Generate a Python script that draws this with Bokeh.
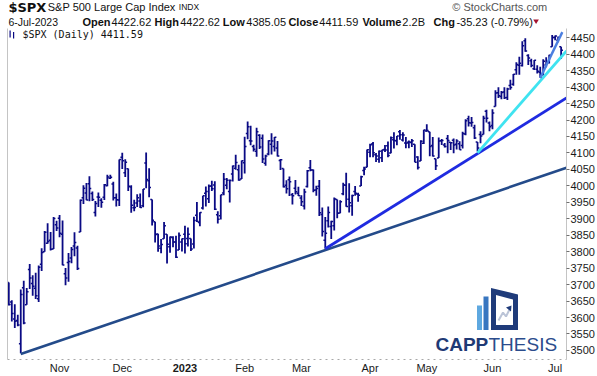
from bokeh.plotting import figure
from bokeh.layouts import column
from bokeh.models import (Range1d, LinearAxis, FixedTicker, Label, BoxAnnotation,
                          PolyAnnotation, ColumnDataSource)
from bokeh.core.properties import value
from bokeh.embed import file_html
from bokeh.resources import INLINE

# ---------------- data ----------------
dates = [
    "2022-10-07", "2022-10-10", "2022-10-11", "2022-10-12", "2022-10-13", "2022-10-14", "2022-10-17",
    "2022-10-18", "2022-10-19", "2022-10-20", "2022-10-21", "2022-10-24", "2022-10-25", "2022-10-26",
    "2022-10-27", "2022-10-28", "2022-10-31",
    "2022-11-01", "2022-11-02", "2022-11-03", "2022-11-04", "2022-11-07", "2022-11-08", "2022-11-09",
    "2022-11-10", "2022-11-11", "2022-11-14", "2022-11-15", "2022-11-16", "2022-11-17", "2022-11-18",
    "2022-11-21", "2022-11-22", "2022-11-23", "2022-11-25", "2022-11-28", "2022-11-29", "2022-11-30",
    "2022-12-01", "2022-12-02", "2022-12-05", "2022-12-06", "2022-12-07", "2022-12-08", "2022-12-09",
    "2022-12-12", "2022-12-13", "2022-12-14", "2022-12-15", "2022-12-16", "2022-12-19", "2022-12-20",
    "2022-12-21", "2022-12-22", "2022-12-23", "2022-12-27", "2022-12-28", "2022-12-29", "2022-12-30",
    "2023-01-03", "2023-01-04", "2023-01-05", "2023-01-06", "2023-01-09", "2023-01-10", "2023-01-11",
    "2023-01-12", "2023-01-13", "2023-01-17", "2023-01-18", "2023-01-19", "2023-01-20", "2023-01-23",
    "2023-01-24", "2023-01-25", "2023-01-26", "2023-01-27", "2023-01-30", "2023-01-31",
    "2023-02-01", "2023-02-02", "2023-02-03", "2023-02-06", "2023-02-07", "2023-02-08", "2023-02-09",
    "2023-02-10", "2023-02-13", "2023-02-14", "2023-02-15", "2023-02-16", "2023-02-17", "2023-02-21",
    "2023-02-22", "2023-02-23", "2023-02-24", "2023-02-27", "2023-02-28",
    "2023-03-01", "2023-03-02", "2023-03-03", "2023-03-06", "2023-03-07", "2023-03-08", "2023-03-09",
    "2023-03-10", "2023-03-13", "2023-03-14", "2023-03-15", "2023-03-16", "2023-03-17", "2023-03-20",
    "2023-03-21", "2023-03-22", "2023-03-23", "2023-03-24", "2023-03-27", "2023-03-28", "2023-03-29",
    "2023-03-30", "2023-03-31",
    "2023-04-03", "2023-04-04", "2023-04-05", "2023-04-06", "2023-04-10", "2023-04-11", "2023-04-12",
    "2023-04-13", "2023-04-14", "2023-04-17", "2023-04-18", "2023-04-19", "2023-04-20", "2023-04-21",
    "2023-04-24", "2023-04-25", "2023-04-26", "2023-04-27", "2023-04-28",
    "2023-05-01", "2023-05-02", "2023-05-03", "2023-05-04", "2023-05-05", "2023-05-08", "2023-05-09",
    "2023-05-10", "2023-05-11", "2023-05-12", "2023-05-15", "2023-05-16", "2023-05-17", "2023-05-18",
    "2023-05-19", "2023-05-22", "2023-05-23", "2023-05-24", "2023-05-25", "2023-05-26", "2023-05-30",
    "2023-05-31",
    "2023-06-01", "2023-06-02", "2023-06-05", "2023-06-06", "2023-06-07", "2023-06-08", "2023-06-09",
    "2023-06-12", "2023-06-13", "2023-06-14", "2023-06-15", "2023-06-16", "2023-06-20", "2023-06-21",
    "2023-06-22", "2023-06-23", "2023-06-26", "2023-06-27", "2023-06-28", "2023-06-29", "2023-06-30",
    "2023-07-03", "2023-07-05", "2023-07-06",
]

opens = [
    3706.74, 3647.51, 3595.86, 3590.83, 3520.37, 3690.41, 3638.65, 3746.26, 3703.11, 3689.05, 3657.10,
    3762.01, 3799.44, 3825.97, 3834.69, 3808.26, 3881.85,
    3901.79, 3852.90, 3733.25, 3766.98, 3780.71, 3817.02, 3810.94, 3859.89, 3963.72, 3977.97, 4006.41,
    3976.82, 3919.26, 3966.39, 3956.23, 3965.51, 4000.30, 4023.34, 4005.36, 3964.19, 3957.18,
    4087.14, 4040.17, 4052.02, 3996.63, 3933.28, 3947.79, 3954.17, 3939.29, 4069.38, 4015.54, 3958.37,
    3890.91, 3853.79, 3810.47, 3839.49, 3853.26, 3815.11, 3843.34, 3829.56, 3805.45, 3829.06,
    3853.29, 3840.36, 3839.74, 3823.37, 3910.82, 3888.57, 3932.35, 3977.57, 3960.60, 3999.28, 4002.25,
    3911.84, 3909.04, 3978.14, 4001.74, 3982.71, 4036.08, 4053.72, 4049.27, 4020.85,
    4070.07, 4158.68, 4136.69, 4119.57, 4105.35, 4153.47, 4144.25, 4068.92, 4096.62, 4126.70, 4119.50,
    4114.75, 4077.39, 4052.35, 4001.83, 4018.60, 3973.24, 3992.36, 3977.19,
    3963.34, 3938.68, 3998.02, 4055.15, 4048.26, 3987.55, 3998.66, 3912.77, 3835.12, 3894.01, 3876.74,
    3878.93, 3958.69, 3917.47, 3975.89, 4002.04, 3959.21, 3939.21, 3982.93, 3974.13, 3999.53, 4046.74,
    4056.18,
    4102.20, 4128.03, 4094.50, 4081.15, 4085.20, 4110.29, 4121.72, 4100.04, 4140.11, 4137.17, 4164.26,
    4139.33, 4130.48, 4132.14, 4132.07, 4126.43, 4087.78, 4075.29, 4129.63,
    4166.79, 4164.10, 4122.25, 4082.61, 4084.73, 4136.98, 4124.25, 4143.74, 4132.24, 4138.54, 4126.65,
    4127.95, 4122.85, 4157.68, 4204.15, 4190.78, 4176.80, 4132.96, 4155.71, 4156.16, 4226.71, 4190.74,
    4183.03, 4241.01, 4282.99, 4271.34, 4285.47, 4268.69, 4304.88, 4308.32, 4352.61, 4366.29, 4365.33,
    4440.95, 4396.11, 4380.01, 4355.40, 4354.17, 4344.84, 4337.36, 4367.48, 4374.94, 4422.44,
    4450.48, 4442.04, 4422.62,
]

highs = [
    3706.74, 3652.17, 3640.66, 3608.34, 3685.41, 3712.00, 3689.73, 3762.79, 3728.58, 3736.00, 3757.89,
    3810.74, 3862.85, 3886.15, 3859.95, 3905.42, 3893.73,
    3911.79, 3894.44, 3750.59, 3796.34, 3813.95, 3859.40, 3818.20, 3958.33, 4001.48, 4008.97, 4028.84,
    3983.09, 3954.33, 3979.89, 3962.00, 4005.88, 4033.78, 4034.02, 4012.27, 3976.77, 4080.11,
    4100.51, 4080.48, 4052.45, 4001.51, 3957.57, 3974.19, 3977.02, 3990.71, 4100.96, 4053.76, 3958.37,
    3890.91, 3854.86, 3838.24, 3889.82, 3853.26, 3845.80, 3846.65, 3848.32, 3858.19, 3839.85,
    3878.46, 3873.16, 3839.74, 3906.19, 3950.57, 3919.83, 3970.07, 3997.76, 4003.95, 4015.39, 4014.16,
    3922.94, 3972.96, 4039.31, 4023.92, 4019.55, 4061.57, 4094.21, 4063.85, 4077.16,
    4148.95, 4195.44, 4182.36, 4124.63, 4176.54, 4156.85, 4156.23, 4094.36, 4138.90, 4159.77, 4148.11,
    4136.54, 4081.51, 4052.35, 4017.37, 4028.30, 3978.25, 4018.05, 3997.50,
    3971.73, 3990.84, 4048.29, 4078.49, 4050.00, 4000.41, 4017.81, 3934.05, 3905.05, 3937.29, 3894.26,
    3964.46, 3958.91, 3956.62, 4009.08, 4039.49, 4007.66, 3972.74, 3999.53, 3979.20, 4030.59, 4057.85,
    4110.75,
    4127.66, 4133.13, 4099.69, 4107.32, 4109.50, 4124.26, 4134.37, 4150.26, 4163.19, 4151.72, 4169.48,
    4162.57, 4148.57, 4138.02, 4142.41, 4126.43, 4089.67, 4138.24, 4170.06,
    4186.92, 4164.10, 4148.30, 4082.61, 4147.02, 4142.30, 4130.35, 4154.28, 4132.80, 4143.74, 4141.25,
    4135.54, 4164.67, 4202.20, 4212.91, 4209.22, 4185.68, 4132.96, 4165.74, 4212.87, 4231.10, 4195.44,
    4232.43, 4290.67, 4299.28, 4288.33, 4299.19, 4298.01, 4322.62, 4340.13, 4375.37, 4391.82, 4439.20,
    4448.47, 4400.15, 4386.22, 4382.25, 4366.55, 4362.06, 4384.42, 4390.35, 4398.39, 4458.48,
    4456.46, 4454.06, 4422.62,
]

lows = [
    3636.87, 3588.10, 3568.45, 3573.86, 3491.58, 3579.68, 3638.65, 3686.53, 3666.51, 3656.44, 3647.42,
    3741.65, 3799.44, 3824.07, 3803.79, 3808.26, 3863.18,
    3843.80, 3758.68, 3698.15, 3708.84, 3764.70, 3786.28, 3744.22, 3859.89, 3944.82, 3956.40, 3953.17,
    3954.34, 3906.54, 3935.98, 3933.34, 3956.88, 3998.66, 4020.76, 3955.77, 3937.65, 3938.58,
    4050.87, 4026.63, 3984.49, 3918.39, 3922.68, 3935.83, 3933.04, 3935.30, 3993.03, 3965.65, 3879.45,
    3827.91, 3800.04, 3795.62, 3839.49, 3764.49, 3797.01, 3813.22, 3780.78, 3805.45, 3800.34,
    3794.33, 3815.77, 3802.42, 3809.56, 3890.42, 3877.29, 3928.54, 3937.56, 3947.67, 3984.57, 3926.59,
    3885.54, 3897.86, 3971.64, 3989.79, 3949.06, 4013.29, 4048.70, 4015.55, 4020.44,
    4037.20, 4141.88, 4123.36, 4103.98, 4088.39, 4111.67, 4069.67, 4060.79, 4092.67, 4095.01, 4103.98,
    4089.49, 4047.95, 3995.19, 3976.90, 3969.19, 3943.08, 3973.55, 3968.98,
    3939.05, 3928.16, 3995.17, 4044.61, 3980.31, 3969.76, 3908.70, 3846.32, 3808.86, 3873.63, 3838.24,
    3864.11, 3901.27, 3916.89, 3971.19, 3936.17, 3919.05, 3909.16, 3969.76, 3951.53, 3999.53, 4032.10,
    4056.18,
    4086.87, 4086.87, 4072.56, 4069.84, 4072.55, 4102.61, 4086.94, 4099.40, 4113.20, 4123.18, 4140.36,
    4134.49, 4114.57, 4113.86, 4117.77, 4071.38, 4049.35, 4075.29, 4127.18,
    4164.12, 4089.72, 4088.86, 4048.28, 4084.73, 4123.81, 4116.65, 4098.92, 4109.29, 4099.12, 4110.27,
    4109.86, 4113.62, 4153.50, 4180.20, 4179.68, 4142.54, 4103.98, 4129.73, 4156.16, 4192.18, 4166.15,
    4171.64, 4241.01, 4266.82, 4263.09, 4263.96, 4261.07, 4291.70, 4304.37, 4337.85, 4337.85, 4362.60,
    4407.44, 4367.19, 4360.14, 4351.82, 4341.34, 4328.08, 4335.00, 4360.22, 4371.97, 4422.44,
    4442.29, 4436.61, 4385.05,
]

closes = [
    3639.66, 3612.39, 3588.84, 3577.03, 3669.91, 3583.07, 3677.95, 3719.98, 3695.16, 3665.78, 3752.75,
    3797.34, 3859.11, 3830.60, 3807.30, 3901.06, 3871.98,
    3856.10, 3759.69, 3719.89, 3770.55, 3806.80, 3828.11, 3748.57, 3956.37, 3992.93, 3957.25, 3991.73,
    3958.79, 3946.56, 3965.34, 3949.94, 4003.58, 4027.26, 4026.12, 3963.94, 3957.63, 4080.11,
    4076.57, 4071.70, 3998.84, 3941.26, 3933.92, 3963.51, 3934.38, 3990.56, 4019.65, 3995.32, 3895.75,
    3852.36, 3817.66, 3821.62, 3878.44, 3822.39, 3844.82, 3829.25, 3783.22, 3849.28, 3839.50,
    3824.14, 3852.97, 3808.10, 3895.08, 3892.09, 3919.25, 3969.61, 3983.17, 3999.09, 3990.97, 3928.86,
    3898.85, 3972.61, 4019.81, 4016.95, 4016.22, 4060.43, 4070.56, 4017.77, 4076.60,
    4119.21, 4179.76, 4136.48, 4111.08, 4164.00, 4117.86, 4081.50, 4090.46, 4137.29, 4136.13, 4147.60,
    4090.41, 4079.09, 3997.34, 3991.05, 4012.32, 3970.04, 3982.24, 3970.15,
    3951.39, 3981.35, 4045.64, 4048.42, 3986.37, 3992.01, 3918.32, 3861.59, 3855.76, 3919.29, 3891.93,
    3960.28, 3916.64, 3951.57, 4002.87, 3936.97, 3948.72, 3970.99, 3977.53, 3971.27, 4027.81, 4050.83,
    4109.31,
    4124.51, 4100.60, 4090.38, 4105.02, 4109.11, 4108.94, 4091.95, 4146.22, 4137.64, 4151.32, 4154.87,
    4154.52, 4129.79, 4133.52, 4137.04, 4071.63, 4055.99, 4135.35, 4169.48,
    4167.87, 4119.58, 4090.75, 4061.22, 4136.25, 4138.12, 4119.17, 4137.64, 4130.62, 4124.08, 4136.28,
    4109.90, 4158.77, 4198.05, 4191.98, 4192.63, 4145.58, 4115.24, 4151.28, 4205.45, 4205.52, 4179.83,
    4221.02, 4282.37, 4273.79, 4283.85, 4267.52, 4293.93, 4298.86, 4338.93, 4369.01, 4372.59, 4425.84,
    4409.59, 4388.71, 4365.69, 4381.89, 4348.33, 4328.82, 4378.41, 4376.86, 4396.44, 4450.38,
    4455.59, 4446.82, 4411.59,
]

# month labels on the date axis (first trading day of each month)
month_tick_dates = ["2022-11-01", "2022-12-01", "2023-01-03", "2023-02-01", "2023-03-01",
                    "2023-04-03", "2023-05-01", "2023-06-01", "2023-07-03"]
month_tick_labels = ["Nov", "Dec", "2023", "Feb", "Mar", "Apr", "May", "Jun", "Jul"]
month_tick_styles = ["normal", "normal", "bold", "normal", "normal", "normal", "normal", "normal", "normal"]

price_ticks = [3500, 3550, 3600, 3650, 3700, 3750, 3800, 3850, 3900, 3950, 4000,
               4050, 4100, 4150, 4200, 4250, 4300, 4350, 4400, 4450]

# trend lines: start date, start price, end price
trend_start_dates = ["2022-10-13", "2023-03-13", "2023-05-24", "2023-06-26"]
trend_start_prices = [3489.0, 3808.9, 4100.0, 4328.0]
trend_end_prices = [4055.0, 4267.0, 4410.0, 4467.0]
trend_end_offsets = [1.8, 1.8, 1.8, 0.4]   # bars past the last date
trend_colors = ["#244b8a", "#1f2be0", "#3fe3f0", "#4c7fe0"]
trend_widths = [2.6, 2.8, 2.8, 2.4]

header_symbol = "$SPX"
header_name = "S&P 500 Large Cap Index"
header_exchange = "INDX"
header_date = "6-Jul-2023"
header_fields = ["Open", "High", "Low", "Close", "Volume", "Chg"]
header_values = ["4422.62", "4422.62", "4385.05", "4411.59", "2.2B", "-35.23 (-0.79%)"]

BAR = "#0a0a84"
FONT = "Liberation Sans"
W = 597
HEAD_H, MAIN_H, FOOT_H = 28, 332, 16
BL, BR = 7, 31

# ---------------- header strip ----------------
hf = figure(width=W, height=HEAD_H, output_backend="svg", toolbar_location=None,
            x_range=Range1d(0, W), y_range=Range1d(HEAD_H, 0), min_border=0)
hf.axis.visible = False
hf.grid.visible = False
hf.outline_line_color = None
hf.background_fill_color = "white"
hf.border_fill_color = "white"


def htext(x, y, text, size="11px", bold=False, font=FONT, color="#111111"):
    hf.text(x=[x], y=[y], text=[text], text_font=value(font), text_font_size=value(size),
            text_font_style="bold" if bold else "normal", text_baseline="middle",
            text_align="left", text_color=color)


htext(1, 6.5, header_symbol, size="13px", bold=True, font="DejaVu Sans")
htext(43, 6.5, header_name, size="11px")
htext(183, 6.8, header_exchange, size="8.5px")
htext(475, 6.5, "\u00a9 StockCharts.com", size="11px", color="#555555")

y2 = 21.3
htext(1, y2, header_date, size="10.5px")
# left edge of each bold field name and its width (Arial-bold metrics at 11px)
field_x = [80, 157, 230, 300, 379, 455]
field_w = [28.1, 24.4, 22.0, 30.0, 39.7, 21.4]
for fx, fw, name, val in zip(field_x, field_w, header_fields, header_values):
    htext(fx, y2, name, bold=True)
    htext(fx + fw + 3, y2, val)
hf.patch(x=[561.5, 567.5, 564.5], y=[19.0, 19.0, 23.5], fill_color="#a3122e", line_color=None)

# ---------------- main chart ----------------
X0, X1 = -0.44, len(dates) - 1 + 1.8
p = figure(width=W, height=MAIN_H, output_backend="svg", toolbar_location=None,
           x_range=Range1d(X0, X1), y_range=Range1d(3472.5, 4478),
           y_axis_location="right",
           min_border_left=BL, min_border_right=BR, min_border_top=0, min_border_bottom=1)
p.xgrid.visible = False
p.ygrid.visible = False
p.outline_line_color = None
p.background_fill_color = "white"
p.border_fill_color = "white"

idx = list(range(len(dates)))
src = ColumnDataSource(dict(x=idx, o=opens, h=highs, l=lows, c=closes,
                            xl=[i - 0.62 for i in idx], xr=[i + 0.62 for i in idx]))
p.segment(x0="x", y0="l", x1="x", y1="h", source=src, line_color=BAR, line_width=1.8)
p.segment(x0="xl", y0="o", x1="x", y1="o", source=src, line_color=BAR, line_width=1.5)
p.segment(x0="x", y0="c", x1="xr", y1="c", source=src, line_color=BAR, line_width=1.5)

last = len(dates) - 1
for d0, y0, y1, off, col, w in zip(trend_start_dates, trend_start_prices, trend_end_prices,
                                   trend_end_offsets, trend_colors, trend_widths):
    p.line([dates.index(d0), last + off], [y0, y1], line_color=col, line_width=w)

ya = p.yaxis[0]
ya.ticker = FixedTicker(ticks=price_ticks)
ya.axis_line_color = "#c4c4c4"
ya.major_tick_line_color = "#707070"
ya.major_tick_out = 3
ya.major_tick_in = 0
ya.minor_tick_line_color = None
ya.major_label_standoff = 1
ya.major_label_text_font = FONT
ya.major_label_text_font_size = "11px"
ya.major_label_text_color = "#1a1a1a"

tick_idx = [dates.index(d) for d in month_tick_dates]
xa = p.xaxis[0]
xa.ticker = FixedTicker(ticks=tick_idx)
xa.major_label_text_font_size = "0px"
xa.major_label_standoff = 0
xa.axis_line_color = "#a8a8a8"
xa.axis_line_dash = "dotted"
xa.major_tick_line_color = None
xa.minor_tick_line_color = None
xa.major_tick_out = 0

la = LinearAxis(major_tick_line_color=None, minor_tick_line_color=None,
                major_label_text_font_size="0px", major_label_standoff=0,
                major_tick_out=0, axis_line_color="#c4c4c4")
p.add_layout(la, "left")

# legend inside the plot (canvas units of the main figure)
p.add_layout(Label(x=22, y=5.5, x_units="canvas", y_units="canvas",
                   text=header_symbol + " (Daily) " + header_values[3],
                   text_font="DejaVu Sans Mono", text_font_size="10px", text_baseline="middle",
                   text_align="left", text_color="#111111"))


def box(l, r, t, b, col):
    p.add_layout(BoxAnnotation(left=l, right=r, top=t, bottom=b,
                               left_units="canvas", right_units="canvas", top_units="canvas",
                               bottom_units="canvas", fill_color=col, fill_alpha=1, line_color=None))


def poly(xs, ys, fill=None, line=None, lw=1):
    p.add_layout(PolyAnnotation(xs=xs, ys=ys, xs_units="canvas", ys_units="canvas",
                                fill_color=fill, fill_alpha=1 if fill else 0,
                                line_color=line, line_width=lw))


# tiny OHLC icon of the legend
box(9, 10.2, 2, 9, BAR)
box(12.5, 13.7, 3.5, 10, BAR)

# CAPPTHESIS logo
OY = HEAD_H
box(476.5, 481.5, 305 - OY, 329.5 - OY, "#5ea8e0")
box(483, 488, 296 - OY, 329.5 - OY, "#3876c0")
poly([490.5, 517.5, 517.5, 490.5], [287.5 - OY, 294 - OY, 329.5 - OY, 329.5 - OY], fill="#1f3b7a")
poly([495.5, 512.5, 512.5, 495.5], [294.5 - OY, 299 - OY, 324.5 - OY, 324.5 - OY], fill="white")
poly([498, 502.5, 505.5, 509.5, 505.5, 502.5],
     [320 - OY, 312 - OY, 316 - OY, 308 - OY, 316 - OY, 312 - OY], line="#1f3b7a", lw=2)
poly([511, 505.5, 510.5], [305 - OY, 307 - OY, 311 - OY], fill="#1f3b7a")
p.add_layout(Label(x=435, y=344 - OY, x_units="canvas", y_units="canvas", text="CAPP",
                   text_font=FONT, text_font_size="19px", text_font_style="bold",
                   text_baseline="middle", text_align="left", text_color="#1f3a75"))
p.add_layout(Label(x=488, y=344 - OY, x_units="canvas", y_units="canvas", text="THESIS",
                   text_font=FONT, text_font_size="19px",
                   text_baseline="middle", text_align="left", text_color="#2b4c8c"))

# ---------------- footer: month labels on the shared date scale ----------------
ff = figure(width=W, height=FOOT_H, output_backend="svg", toolbar_location=None,
            x_range=p.x_range, y_range=Range1d(FOOT_H, 0),
            min_border_left=BL, min_border_right=BR, min_border_top=0, min_border_bottom=0)
ff.axis.visible = False
ff.grid.visible = False
ff.outline_line_color = None
ff.background_fill_color = "white"
ff.border_fill_color = "white"
fsrc = ColumnDataSource(dict(x=tick_idx, y=[7.5] * len(tick_idx), t=month_tick_labels, s=month_tick_styles))
ff.text(x="x", y="y", text="t", text_font_style="s", source=fsrc, text_font=value(FONT),
        text_font_size=value("11px"), text_align="center", text_baseline="middle", text_color="#1a1a1a")

layout = column(hf, p, ff, spacing=0)
open("out.html", "w").write(file_html(layout, INLINE))
